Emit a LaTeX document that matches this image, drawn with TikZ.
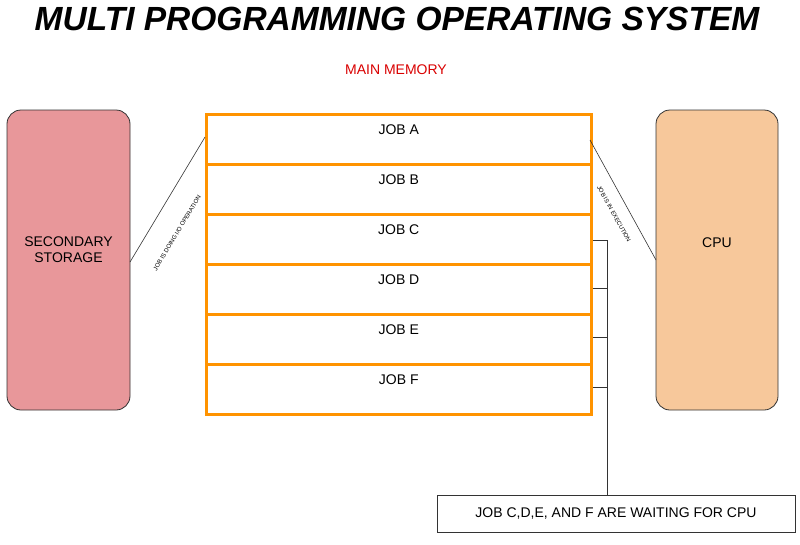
\documentclass[tikz,border=0pt]{standalone}
\usepackage{fontspec}
\setmainfont{Liberation Sans}
\begin{document}
\begin{tikzpicture}[x=1pt,y=1pt,
  side/.style={draw=black!80,rounded corners=14pt,line width=0.8pt},
  row/.style={draw=orange!85!yellow,line width=2.5pt,minimum width=385pt,minimum height=50pt,inner sep=0pt,anchor=north west},
  txt/.style={font=\fontsize{14}{16}\selectfont},
  lab/.style={font=\fontsize{6}{7}\selectfont,inner sep=1pt}]
\useasboundingbox (0,0) rectangle (800,-544);
\node[font=\fontsize{33.5}{38}\selectfont\bfseries\itshape] (title) at (397,-19) {MULTI PROGRAMMING OPERATING SYSTEM};
\node[text=red!85!black,txt] (mm) at (396,-70) {MAIN MEMORY};
\node[side,fill={rgb,255:red,232;green,151;blue,154},minimum width=123pt,minimum height=300pt] (ss) at (68.5,-260) {};
\node[txt,align=center] (sst) at (68.5,-250) {SECONDARY\\STORAGE};
\node[side,fill={rgb,255:red,247;green,200;blue,155},minimum width=122pt,minimum height=300pt] (cpu) at (717,-260) {};
\node[txt] (cput) at (717,-243) {CPU};
\foreach \n/\t [count=\i from 0] in {a/A,b/B,c/C,d/D,e/E,f/F}
  \node[row] (\n) at (205,-113-50*\i) {};
\foreach \n/\t in {a/A,b/B,c/C,d/D,e/E,f/F}
  \node[txt] (\n t) at ([yshift=-17pt]\n.north) {JOB \t};
\coordinate (l1) at (130,-262); \coordinate (l2) at (205,-137);
\draw[black!80,line width=0.6pt] (l1) -- (l2);
\node[lab,rotate=59] (ll) at (177,-233) {JOB IS DOING I/O OPERATION};
\coordinate (r1) at (590,-140); \coordinate (r2) at (656,-260);
\draw[black!80,line width=0.6pt] (r1) -- (r2);
\node[lab,rotate=-61] (rl) at (614,-214) {JOB IS IN EXECUTION};
\node[draw=black!80,line width=0.6pt,minimum width=358pt,minimum height=37pt,txt] (wait) at (616,-513.5) {JOB C,D,E, AND F ARE WAITING FOR CPU};
\coordinate (t) at (607,-240);
\draw[black!80,line width=0.6pt] (593,-240) -- (t) -- (t |- wait.north);
\foreach \y in {288,337,387} \draw[black!80,line width=0.6pt] (593,-\y) -- (607,-\y);
\end{tikzpicture}
\end{document}
